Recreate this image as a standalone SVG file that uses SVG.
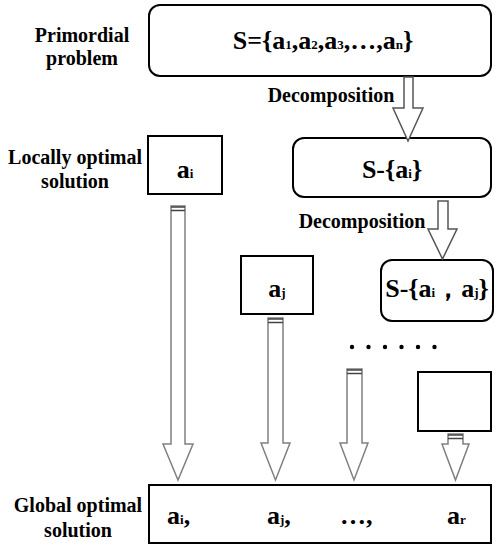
<svg xmlns="http://www.w3.org/2000/svg" width="497" height="550" viewBox="0 0 497 550">
<style>
.box{fill:#fff;stroke:#000;stroke-width:2}
text{font-family:'Liberation Serif','Times New Roman','DejaVu Serif',serif;font-weight:bold;fill:#000}
.lbl{font-size:20px}
.main{font-size:26px}
.sub{font-size:13px}
.arr{fill:#fff;stroke:#555;stroke-width:1.5}
.arr2{fill:#fff;stroke:#808080;stroke-width:1.5}
.cap{stroke:#444;stroke-width:1.5}
</style>
<rect width="497" height="550" fill="#fff"/>
<g id="labels">
<text class="lbl" text-anchor="middle" font-family="Liberation Serif, serif"><tspan x="82" y="42">Primordial</tspan><tspan x="82" y="65">problem</tspan></text>
<text class="lbl" text-anchor="middle" font-family="Liberation Serif, serif"><tspan x="75" y="164">Locally optimal</tspan><tspan x="75" y="188">solution</tspan></text>
<text class="lbl" text-anchor="middle" font-family="Liberation Serif, serif"><tspan x="78" y="512">Global optimal</tspan><tspan x="78" y="537">solution</tspan></text>
</g>
<g id="n-S">
<rect class="box" x="149" y="5" width="342" height="71" rx="11"/>
<text class="main" x="323" y="49" text-anchor="middle">S={a<tspan class="sub">1</tspan>,a<tspan class="sub">2</tspan>,a<tspan class="sub">3</tspan>,…,a<tspan class="sub">n</tspan>}</text>
</g>
<g id="n-S1">
<rect class="box" x="293" y="138" width="198" height="59" rx="11"/>
<text class="main" x="392" y="178" text-anchor="middle">S-{a<tspan class="sub">i</tspan>}</text>
</g>
<g id="n-S2">
<rect class="box" x="381" y="260" width="112" height="61" rx="11"/>
<text class="main" x="437" y="297" text-anchor="middle">S-{a<tspan class="sub">i</tspan>，a<tspan class="sub">j</tspan>}</text>
</g>
<g id="n-ai">
<rect class="box" x="148" y="136" width="74" height="58"/>
<text class="main" x="185" y="178" text-anchor="middle">a<tspan class="sub">i</tspan></text>
</g>
<g id="n-aj">
<rect class="box" x="241" y="256" width="72" height="58"/>
<text class="main" x="277" y="297" text-anchor="middle">a<tspan class="sub">j</tspan></text>
</g>
<g id="n-ar">
<rect class="box" x="418" y="372" width="73" height="59"/>
</g>
<g id="n-global">
<rect class="box" x="149" y="485" width="342" height="58"/>
<text class="main" y="524"><tspan x="167">a</tspan><tspan class="sub">i</tspan><tspan>,</tspan></text>
<text class="main" y="524"><tspan x="267">a</tspan><tspan class="sub">j</tspan><tspan>,</tspan></text>
<text class="main" x="340" y="524">…,</text>
<text class="main" y="524"><tspan x="447">a</tspan><tspan class="sub">r</tspan></text>
</g>
<g id="dots" fill="#000">
<circle cx="352" cy="347" r="2.2"/><circle cx="368.5" cy="347" r="2.2"/><circle cx="385" cy="347" r="2.2"/><circle cx="401.5" cy="347" r="2.2"/><circle cx="418" cy="347" r="2.2"/><circle cx="434.5" cy="347" r="2.2"/>
</g>
<g id="connectors">
<path class="arr" d="M404,77 V108 H393 L408,141 L423,108 H413 V77 Z"/>
<text class="lbl" x="331" y="102" text-anchor="middle">Decomposition</text>
<path class="arr" d="M438,201 V229 H428 L442.5,259 L457,229 H448 V201 Z"/>
<text class="lbl" x="362" y="228" text-anchor="middle">Decomposition</text>
<path class="arr2" d="M171,206 V444 H163 L178,480 L193,444 H185 V206 Z"/>
<path class="cap" d="M171,207 H185 M171,210.5 H185"/>
<path class="arr2" d="M268,318 V443 H261 L275.5,480 L290,443 H283 V318 Z"/>
<path class="cap" d="M268,319 H283 M268,322.5 H283"/>
<path class="arr2" d="M347,369 V443 H340 L354,480 L368,443 H362 V369 Z"/>
<path class="cap" d="M347,370 H362 M347,373.5 H362"/>
<path class="arr2" d="M448,434 V444 H442 L455.5,480 L469,444 H463 V434 Z"/>
<path class="cap" d="M448,435 H463 M448,438.5 H463"/>
</g>
</svg>
